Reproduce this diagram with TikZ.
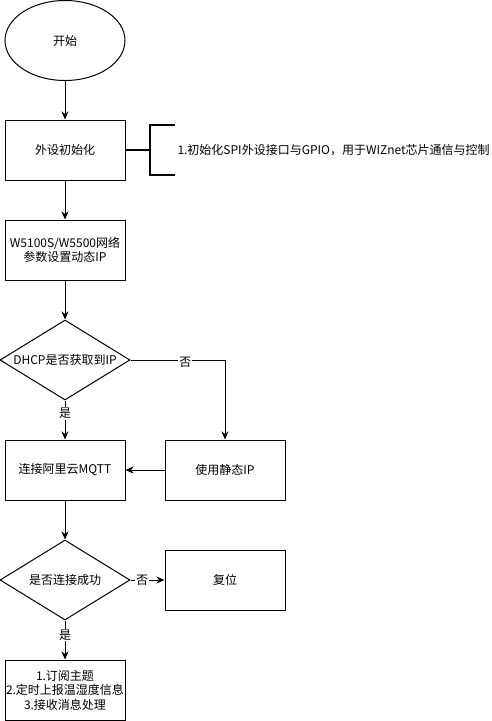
\documentclass[tikz,border=0pt]{standalone}
\usepackage{fontspec}
\setmainfont{Noto Sans CJK SC}
\usetikzlibrary{shapes.geometric, arrows.meta}

\begin{document}
\begin{tikzpicture}[x=1pt, y=-1pt, line width=1pt,
  every node/.style={font=\fontsize{12}{14.5}\selectfont},
  proc/.style={draw, rectangle, minimum width=120pt, minimum height=60pt, inner sep=0pt, align=center},
  decide/.style={draw, diamond, aspect=1.625, minimum width=130pt, minimum height=80pt, inner sep=0pt},
  flow/.style={-{Stealth[length=8pt, width=7pt, inset=2.5pt]}},
  lbl/.style={fill=white, inner sep=1pt}]

  \useasboundingbox (0,0) rectangle (492,721);

  % steps
  \node[draw, ellipse, minimum width=120pt, minimum height=80pt, inner sep=0pt] (start) at (65,40.5) {开始};
  \node[proc] (init)   at (65,150)  {外设初始化};
  \node[proc] (net)    at (65,250)  {W5100S/W5500网络\\参数设置动态IP};
  \node[decide] (dhcp) at (65,360)  {DHCP是否获取到IP};
  \node[proc] (mqtt)   at (65,470)  {连接阿里云MQTT};
  \node[proc] (static) at (225,470) {使用静态IP};
  \node[decide] (ok)   at (65,580)  {是否连接成功};
  \node[proc] (reset)  at (225,580) {复位};
  \node[proc] (run)    at (65,690)  {1.订阅主题\\2.定时上报温湿度信息\\3.接收消息处理};

  % note on init
  \coordinate (brk)  at (150,150);
  \coordinate (brkT) at (175,125);
  \coordinate (brkB) at (175,175);
  \node[anchor=west, inner sep=0pt] (note) at (177,150) {1.初始化SPI外设接口与GPIO，用于WIZnet芯片通信与控制};
  \draw[line width=2pt] (init.east) to (brk);
  \draw[line width=2pt] (brkT) -| (brk) |- (brkB);

  % arrows
  \draw[flow] (start) to (init);
  \draw[flow] (init) to (net);
  \draw[flow] (net) to (dhcp);
  \draw[flow] (dhcp.east) -| node[lbl, pos=0.29, yshift=-2pt] {否} (static.north);
  \draw[flow] (dhcp) to node[lbl, pos=0.33] {是} (mqtt);
  \draw[flow] (static) to (mqtt);
  \draw[flow] (mqtt) to (ok);
  \draw[flow] (ok) to node[lbl, pos=0.34] {否} (reset);
  \draw[flow] (ok) to node[lbl, pos=0.375] {是} (run);

\end{tikzpicture}
\end{document}
